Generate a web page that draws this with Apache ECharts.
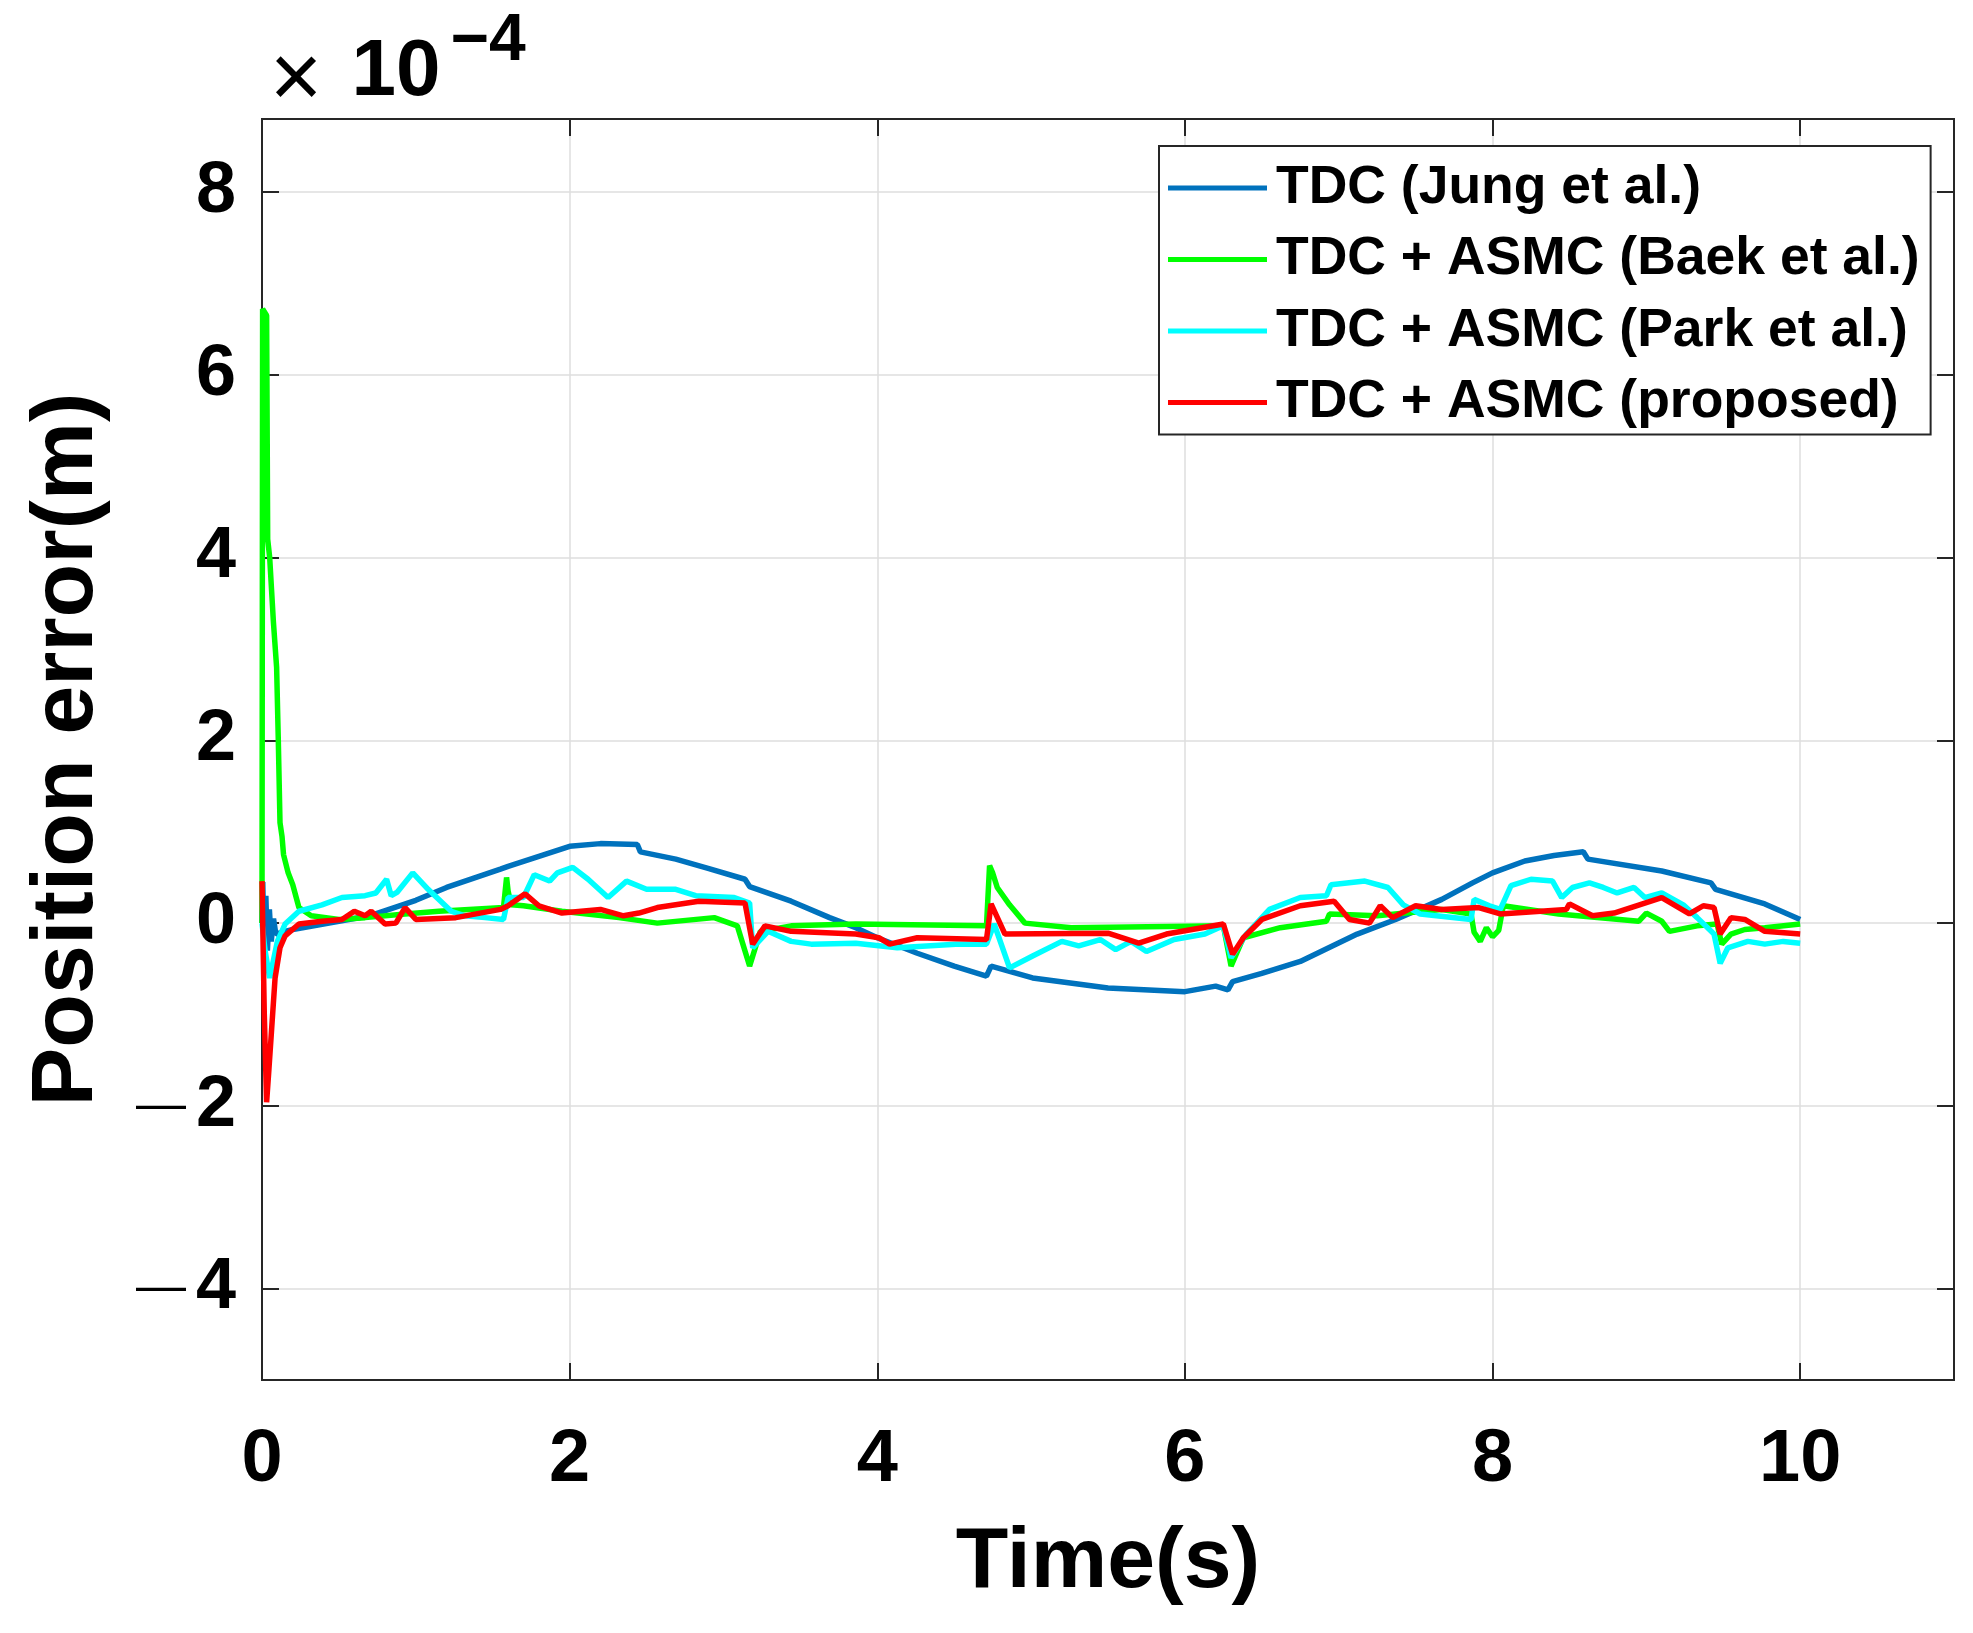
<!DOCTYPE html>
<html>
<head>
<meta charset="utf-8">
<title>Position error</title>
<script src="https://cdn.jsdelivr.net/npm/echarts@6/dist/echarts.min.js"></script>
<style>
  html, body { margin: 0; padding: 0; background: #fff; }
  #chart { width: 1973px; height: 1633px; }
</style>
</head>
<body>
<div id="chart"></div>
<script>
// position error in units of 1e-4 m, pairs of [time (s), error]
const jungData = [
  [0, 0], [0.005, 0.45], [0.015, -0.42], [0.025, 0.3], [0.035, -0.3], [0.048, 0.15],
  [0.06, -0.2], [0.075, 0.05], [0.09, -0.12], [0.15, -0.09], [0.2, -0.07], [0.4, -0.01],
  [0.7, 0.08], [1.0, 0.25], [1.2, 0.39], [1.55, 0.59], [1.6, 0.62], [1.8, 0.73],
  [2.0, 0.84], [2.2, 0.87], [2.44, 0.86], [2.46, 0.78], [2.69, 0.70], [2.9, 0.60],
  [3.14, 0.48], [3.17, 0.40], [3.44, 0.24], [3.69, 0.06], [3.86, -0.05], [4.0, -0.16],
  [4.26, -0.33], [4.5, -0.47], [4.71, -0.58], [4.74, -0.47], [5.01, -0.60], [5.5, -0.71],
  [6.0, -0.75], [6.2, -0.69], [6.28, -0.73], [6.31, -0.64], [6.5, -0.55], [6.75, -0.42],
  [7.12, -0.12], [7.37, 0.04], [7.67, 0.26], [7.87, 0.44], [8.0, 0.55], [8.21, 0.68],
  [8.4, 0.74], [8.59, 0.78], [8.62, 0.70], [9.1, 0.57], [9.42, 0.44], [9.45, 0.37],
  [9.77, 0.21], [10.0, 0.04]
]

const baekData = [
  [0, 0], [0.004, 6.72], [0.03, 6.65], [0.037, 4.2], [0.05, 4.0], [0.074, 3.3],
  [0.095, 2.8], [0.106, 2.0], [0.117, 1.1], [0.13, 0.95], [0.14, 0.75], [0.17, 0.55],
  [0.2, 0.42], [0.24, 0.17], [0.32, 0.08], [0.5, 0.04], [0.67, 0.06], [0.93, 0.1],
  [1.15, 0.13], [1.57, 0.17], [1.59, 0.5], [1.6, 0.35], [1.62, 0.2], [1.7, 0.19],
  [1.95, 0.13], [2.32, 0.06], [2.57, 0.0], [2.94, 0.06], [3.09, -0.03], [3.17, -0.47],
  [3.24, -0.09], [3.44, -0.03], [3.86, -0.01], [4.71, -0.03], [4.73, 0.63], [4.75, 0.55],
  [4.78, 0.39], [4.86, 0.2], [4.96, 0.0], [5.26, -0.05], [6.25, -0.03], [6.3, -0.47],
  [6.38, -0.16], [6.62, -0.05], [6.92, 0.02], [6.94, 0.1], [7.25, 0.08], [7.67, 0.15],
  [7.86, 0.10], [7.88, -0.1], [7.92, -0.2], [7.96, -0.05], [8.0, -0.15], [8.04, -0.08],
  [8.07, 0.19], [8.43, 0.10], [8.95, 0.02], [9.0, 0.11], [9.1, 0.02], [9.15, -0.09],
  [9.33, -0.03], [9.46, -0.01], [9.49, -0.23], [9.55, -0.12], [9.64, -0.07], [9.77, -0.05],
  [10.0, -0.01]
]

const parkData = [
  [0, 0], [0.02, -0.3], [0.05, -0.6], [0.1, -0.2], [0.15, -0.01], [0.24, 0.13],
  [0.39, 0.2], [0.52, 0.28], [0.67, 0.3], [0.74, 0.33], [0.81, 0.48], [0.84, 0.3],
  [0.88, 0.34], [0.98, 0.55], [1.08, 0.37], [1.23, 0.13], [1.32, 0.08], [1.45, 0.06],
  [1.57, 0.04], [1.6, 0.28], [1.7, 0.28], [1.77, 0.53], [1.87, 0.46], [1.92, 0.55],
  [2.02, 0.61], [2.12, 0.48], [2.25, 0.28], [2.37, 0.46], [2.5, 0.37], [2.69, 0.37],
  [2.82, 0.3], [3.07, 0.28], [3.17, 0.22], [3.19, -0.27], [3.29, -0.09], [3.44, -0.2],
  [3.57, -0.23], [3.86, -0.22], [4.13, -0.27], [4.51, -0.23], [4.71, -0.23], [4.76, -0.01],
  [4.86, -0.49], [5.01, -0.36], [5.2, -0.2], [5.31, -0.25], [5.45, -0.18], [5.55, -0.29],
  [5.65, -0.2], [5.75, -0.31], [5.93, -0.18], [6.13, -0.12], [6.25, -0.03], [6.3, -0.38],
  [6.4, -0.12], [6.55, 0.15], [6.75, 0.28], [6.92, 0.30], [6.95, 0.42], [7.17, 0.46],
  [7.32, 0.39], [7.42, 0.2], [7.53, 0.1], [7.86, 0.04], [7.88, 0.26], [7.98, 0.19],
  [8.05, 0.15], [8.12, 0.41], [8.25, 0.48], [8.39, 0.46], [8.45, 0.28], [8.52, 0.39],
  [8.63, 0.44], [8.72, 0.39], [8.81, 0.33], [8.92, 0.39], [8.99, 0.28], [9.1, 0.33],
  [9.24, 0.2], [9.33, 0.06], [9.44, -0.12], [9.48, -0.44], [9.53, -0.27], [9.66, -0.2],
  [9.77, -0.23], [9.89, -0.2], [10.0, -0.22]
]

const proposedData = [
  [0, 0.46], [0.015, -1.0], [0.03, -1.96], [0.045, -1.6], [0.063, -1.15], [0.085, -0.6],
  [0.117, -0.27], [0.15, -0.14], [0.24, -0.01], [0.39, 0.02], [0.52, 0.04], [0.6, 0.13],
  [0.67, 0.08], [0.71, 0.13], [0.8, -0.01], [0.87, 0.0], [0.93, 0.17], [1.0, 0.04],
  [1.26, 0.06], [1.55, 0.15], [1.6, 0.19], [1.71, 0.32], [1.8, 0.19], [1.95, 0.11],
  [2.2, 0.15], [2.35, 0.08], [2.45, 0.11], [2.57, 0.17], [2.84, 0.24], [3.14, 0.22],
  [3.19, -0.23], [3.27, -0.03], [3.44, -0.09], [3.86, -0.12], [4.01, -0.16], [4.08, -0.23],
  [4.26, -0.16], [4.71, -0.18], [4.74, 0.21], [4.83, -0.12], [5.5, -0.11], [5.7, -0.22],
  [5.88, -0.12], [6.25, -0.01], [6.31, -0.34], [6.38, -0.16], [6.5, 0.04], [6.75, 0.19],
  [6.97, 0.24], [7.07, 0.04], [7.2, 0.0], [7.27, 0.19], [7.35, 0.06], [7.5, 0.19],
  [7.67, 0.15], [7.91, 0.17], [8.05, 0.1], [8.48, 0.15], [8.5, 0.21], [8.65, 0.08],
  [8.79, 0.11], [9.1, 0.28], [9.28, 0.1], [9.37, 0.19], [9.44, 0.17], [9.48, -0.12],
  [9.55, 0.06], [9.64, 0.04], [9.77, -0.09], [10.0, -0.12]
]

const seriesNames = [
  'TDC (Jung et al.)',
  'TDC + ASMC (Baek et al.)',
  'TDC + ASMC (Park et al.)',
  'TDC + ASMC (proposed)'
]
const seriesColors = ['#0072BD', '#00FF00', '#00FFFF', '#FF0000']
const xTicks = [0, 2, 4, 6, 8, 10]
const yTicks = [-4, -2, 0, 2, 4, 6, 8]

const font = 'Liberation Sans, Arial, sans-serif'

const chart = echarts.init(document.getElementById('chart'))

function makeSeries(i, data) {
  return {
    name: seriesNames[i],
    type: 'line',
    data: data,
    showSymbol: false,
    symbol: 'none',
    lineStyle: { width: 5.5, color: seriesColors[i] },
    itemStyle: { color: seriesColors[i] }
  }
}

// inside ticks shared by all four sides
function ticks(values) {
  return { inside: true, length: 17, customValues: values, lineStyle: { color: '#262626', width: 2 } }
}

const option = {
  animation: false,
  backgroundColor: '#fff',
  grid: {
    left: 262,
    top: 119,
    right: 19,
    bottom: 253,
    show: true,
    borderColor: '#262626',
    borderWidth: 2,
    backgroundColor: '#fff'
  },
  legend: {
    orient: 'vertical',
    left: 1159,
    top: 146,
    itemWidth: 99,
    itemHeight: 5,
    itemGap: 17.5,
    icon: 'rect',
    padding: [15, 11, 5, 9],
    borderColor: '#262626',
    borderWidth: 2,
    backgroundColor: '#fff',
    textStyle: {
      fontFamily: font,
      fontWeight: 'bold',
      fontSize: 53.5,
      lineHeight: 53,
      color: '#000',
      padding: [0, 0, 0, 4]
    },
    data: seriesNames
  },
  xAxis: [
    {
      type: 'value',
      min: 0,
      max: 11,
      name: 'Time(s)',
      nameLocation: 'middle',
      nameGap: 140,
      nameTextStyle: { fontFamily: font, fontWeight: 'bold', fontSize: 86, color: '#000' },
      axisLine: { show: true, onZero: false, lineStyle: { color: '#262626', width: 2 } },
      axisTick: ticks(xTicks),
      axisLabel: {
        customValues: xTicks,
        margin: 44,
        fontFamily: font,
        fontWeight: 'bold',
        fontSize: 74,
        color: '#000'
      },
      splitLine: { show: true, lineStyle: { color: '#dedede', width: 1.5 } }
    },
    {
      type: 'value',
      position: 'top',
      min: 0,
      max: 11,
      axisLine: { show: false, onZero: false },
      axisTick: ticks(xTicks),
      axisLabel: { show: false },
      splitLine: { show: false }
    }
  ],
  yAxis: [
    {
      type: 'value',
      min: -5,
      max: 8.8,
      name: 'Position error(m)',
      nameLocation: 'middle',
      nameGap: 150,
      nameTextStyle: { fontFamily: font, fontWeight: 'bold', fontSize: 88, color: '#000' },
      axisLine: { show: true, onZero: false, lineStyle: { color: '#262626', width: 2 } },
      axisTick: ticks(yTicks),
      axisLabel: {
        customValues: yTicks,
        margin: 26,
        fontFamily: font,
        fontWeight: 'bold',
        fontSize: 72,
        color: '#000',
        formatter: function (v) {
          return v < 0 ? '{m|\u2014}' + Math.abs(v) : String(v)
        },
        rich: {
          m: { fontFamily: font, fontWeight: 'normal', fontSize: 50, color: '#000', padding: [0, 10, 0, 0] }
        }
      },
      splitLine: { show: true, lineStyle: { color: '#dedede', width: 1.5 } }
    },
    {
      type: 'value',
      position: 'right',
      min: -5,
      max: 8.8,
      axisLine: { show: false, onZero: false },
      axisTick: ticks(yTicks),
      axisLabel: { show: false },
      splitLine: { show: false }
    }
  ],
  graphic: [
    {
      type: 'text',
      x: 296,
      y: 82,
      style: { text: '\u00d7', fontFamily: font, fontSize: 90, fontWeight: 'normal', fill: '#000', align: 'center', verticalAlign: 'middle' }
    },
    {
      type: 'text',
      x: 396,
      y: 73,
      style: { text: '10', fontFamily: font, fontSize: 80, fontWeight: 'bold', fill: '#000', align: 'center', verticalAlign: 'middle' }
    },
    {
      type: 'text',
      x: 488,
      y: 42,
      style: { text: '\u22124', fontFamily: font, fontSize: 66, fontWeight: 'bold', fill: '#000', align: 'center', verticalAlign: 'middle' }
    }
  ],
  series: [
    makeSeries(0, jungData),
    makeSeries(1, baekData),
    makeSeries(2, parkData),
    makeSeries(3, proposedData)
  ]
}

chart.setOption(option)
</script>
</body>
</html>
